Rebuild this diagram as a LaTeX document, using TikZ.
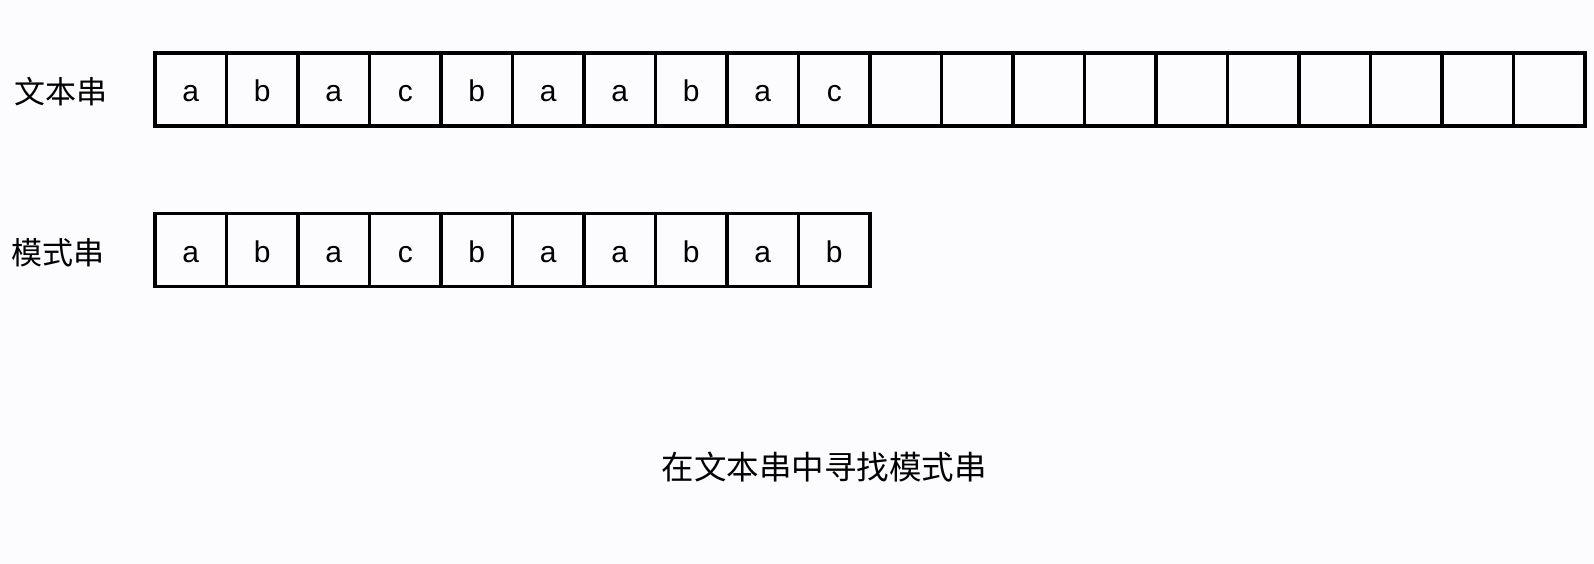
\documentclass[tikz,border=0pt]{standalone}
\usepackage{fontspec}
\setmainfont{Liberation Sans}
\newfontfamily\cjk{Noto Sans CJK SC}
\definecolor{paper}{RGB}{252,252,254}

\begin{document}
\begin{tikzpicture}[x=1pt,y=1pt]
\tikzstyle{cell}=[draw,line width=3.5pt,minimum width=71.5pt,minimum height=73pt,inner sep=0pt,
  font=\fontsize{30}{30}\selectfont,text height=25pt,text depth=0pt]
\tikzstyle{tag}=[font=\cjk\fontsize{31}{31}\selectfont,inner sep=0pt]
\fill[paper] (0,0) rectangle (1594,-564);
\useasboundingbox (0,0) rectangle (1594,-564);
% text string
\foreach \ch [count=\i] in {a,b,a,c,b,a,a,b,a,c}
  \node[cell] (t\i) at ({155+71.5*(\i-0.5)},-89.5) {\ch};
\foreach \i in {11,...,20}
  \node[cell] (t\i) at ({155+71.5*(\i-0.5)},-89.5) {};
% pattern string
\foreach \ch [count=\i] in {a,b,a,c,b,a,a,b,a,b}
  \node[cell] (p\i) at ({155+71.5*(\i-0.5)},-250) {\ch};
\node[tag] (text) at (61,-92) {文本串};
\node[tag] (pattern) at (58,-253) {模式串};
\node[tag,font=\cjk\fontsize{32.5}{32.5}\selectfont] (caption) at (824,-467) {在文本串中寻找模式串};
\end{tikzpicture}
\end{document}
